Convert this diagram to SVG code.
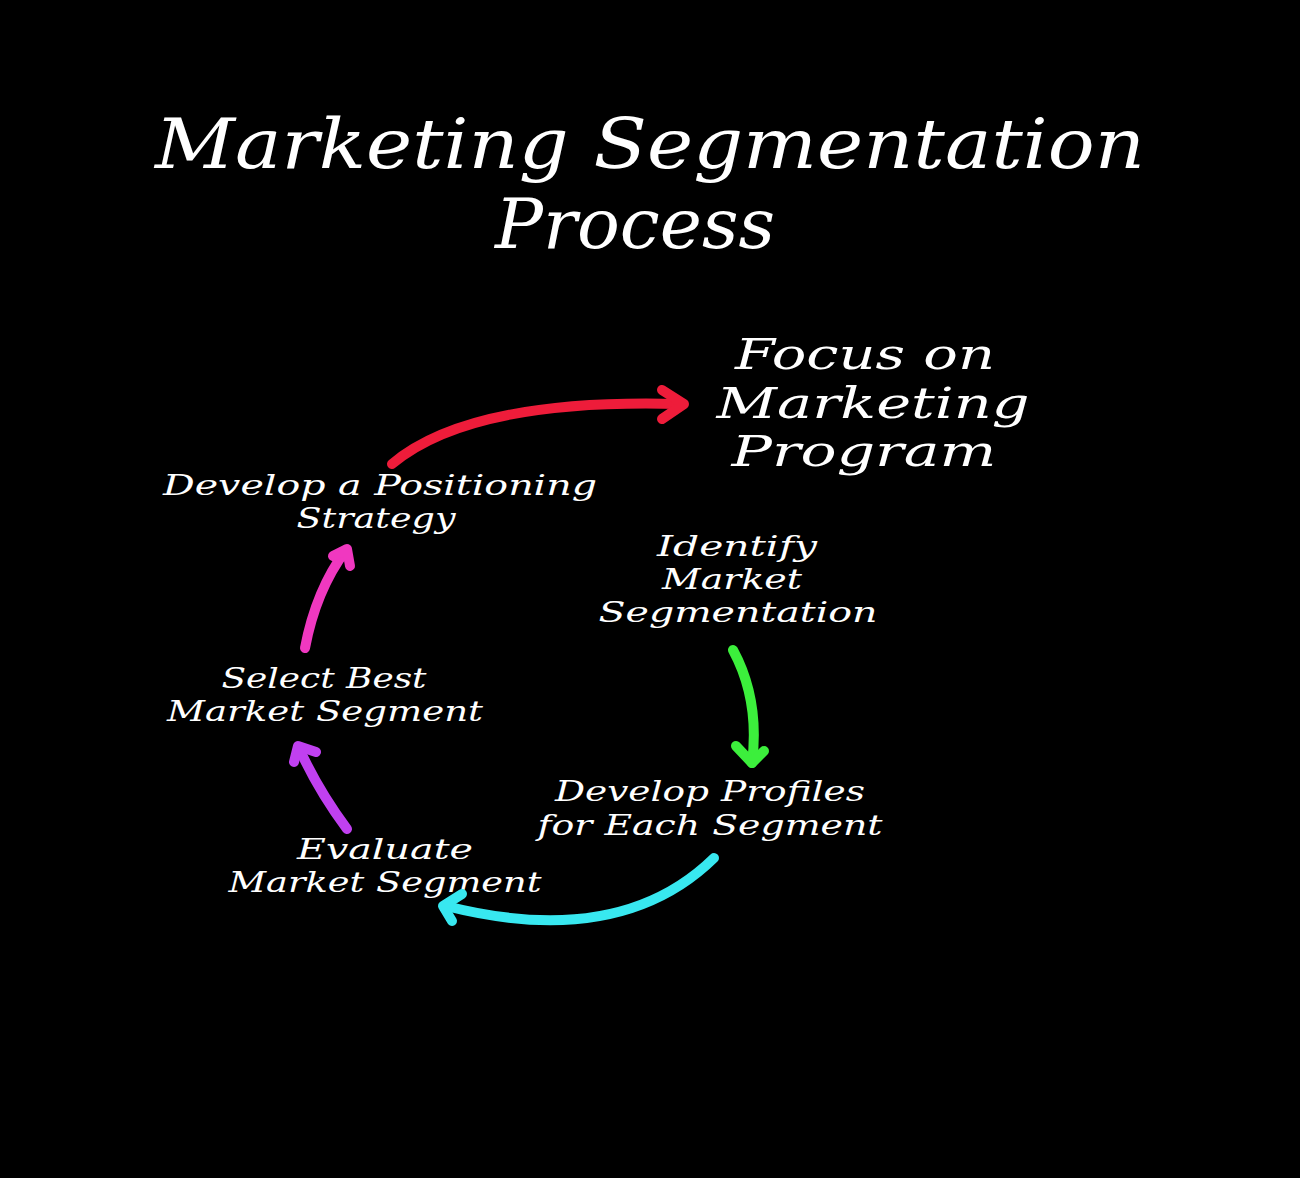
<svg xmlns="http://www.w3.org/2000/svg" width="1300" height="1178" viewBox="0 0 1300 1178">
<style>
.t{font-family:"DejaVu Serif","Liberation Serif",serif;font-style:italic;fill:#fff;text-anchor:middle}
.title{font-size:70px}
.big{font-size:42px}
.lbl{font-size:28px}
.c{fill:none;stroke-width:10;stroke-linecap:round;stroke-linejoin:round}
</style>
<rect width="1300" height="1178" fill="#000"/>
<g id="title">
<text class="t title" x="650" y="168" textLength="990" lengthAdjust="spacingAndGlyphs">Marketing Segmentation</text>
<text class="t title" x="635" y="248" textLength="280" lengthAdjust="spacingAndGlyphs">Process</text>
</g>
<g id="focus">
<text class="t big" x="865" y="369" textLength="260" lengthAdjust="spacingAndGlyphs">Focus on</text>
<text class="t big" x="873" y="418" textLength="313" lengthAdjust="spacingAndGlyphs">Marketing</text>
<text class="t big" x="864" y="466" textLength="265" lengthAdjust="spacingAndGlyphs">Program</text>
</g>
<g id="positioning">
<text class="t lbl" x="380" y="495" textLength="434" lengthAdjust="spacingAndGlyphs">Develop a Positioning</text>
<text class="t lbl" x="376" y="528" textLength="159" lengthAdjust="spacingAndGlyphs">Strategy</text>
</g>
<g id="identify">
<text class="t lbl" x="737" y="556" textLength="160" lengthAdjust="spacingAndGlyphs">Identify</text>
<text class="t lbl" x="732" y="589" textLength="140" lengthAdjust="spacingAndGlyphs">Market</text>
<text class="t lbl" x="738" y="622" textLength="279" lengthAdjust="spacingAndGlyphs">Segmentation</text>
</g>
<g id="profiles">
<text class="t lbl" x="710" y="801" textLength="310" lengthAdjust="spacingAndGlyphs">Develop Profiles</text>
<text class="t lbl" x="710" y="835" textLength="345" lengthAdjust="spacingAndGlyphs">for Each Segment</text>
</g>
<g id="evaluate">
<text class="t lbl" x="385" y="859" textLength="176" lengthAdjust="spacingAndGlyphs">Evaluate</text>
<text class="t lbl" x="385" y="892" textLength="313" lengthAdjust="spacingAndGlyphs">Market Segment</text>
</g>
<g id="select">
<text class="t lbl" x="324" y="688" textLength="205" lengthAdjust="spacingAndGlyphs">Select Best</text>
<text class="t lbl" x="325" y="721" textLength="316" lengthAdjust="spacingAndGlyphs">Market Segment</text>
</g>
<g id="connectors">
<g stroke="#ee1c3a" class="c"><path d="M392 464 Q470 398 680 404"/><path d="M662 390 L684 404 L662 419"/></g>
<g stroke="#f038c0" class="c"><path d="M305 648 Q316 590 346 550"/><path d="M333 556 L347 549 L350 566"/></g>
<g stroke="#3cef3c" class="c"><path d="M733 650 Q760 700 752 763"/><path d="M736 746 L752 763 L764 751"/></g>
<g stroke="#38e8f0" class="c"><path d="M714 858 Q620 950 446 906"/><path d="M462 894 L443 906 L452 921"/></g>
<g stroke="#c040f0" class="c"><path d="M347 829 Q318 790 299 748"/><path d="M294 762 L298 746 L316 752"/></g>
</g>
</svg>
